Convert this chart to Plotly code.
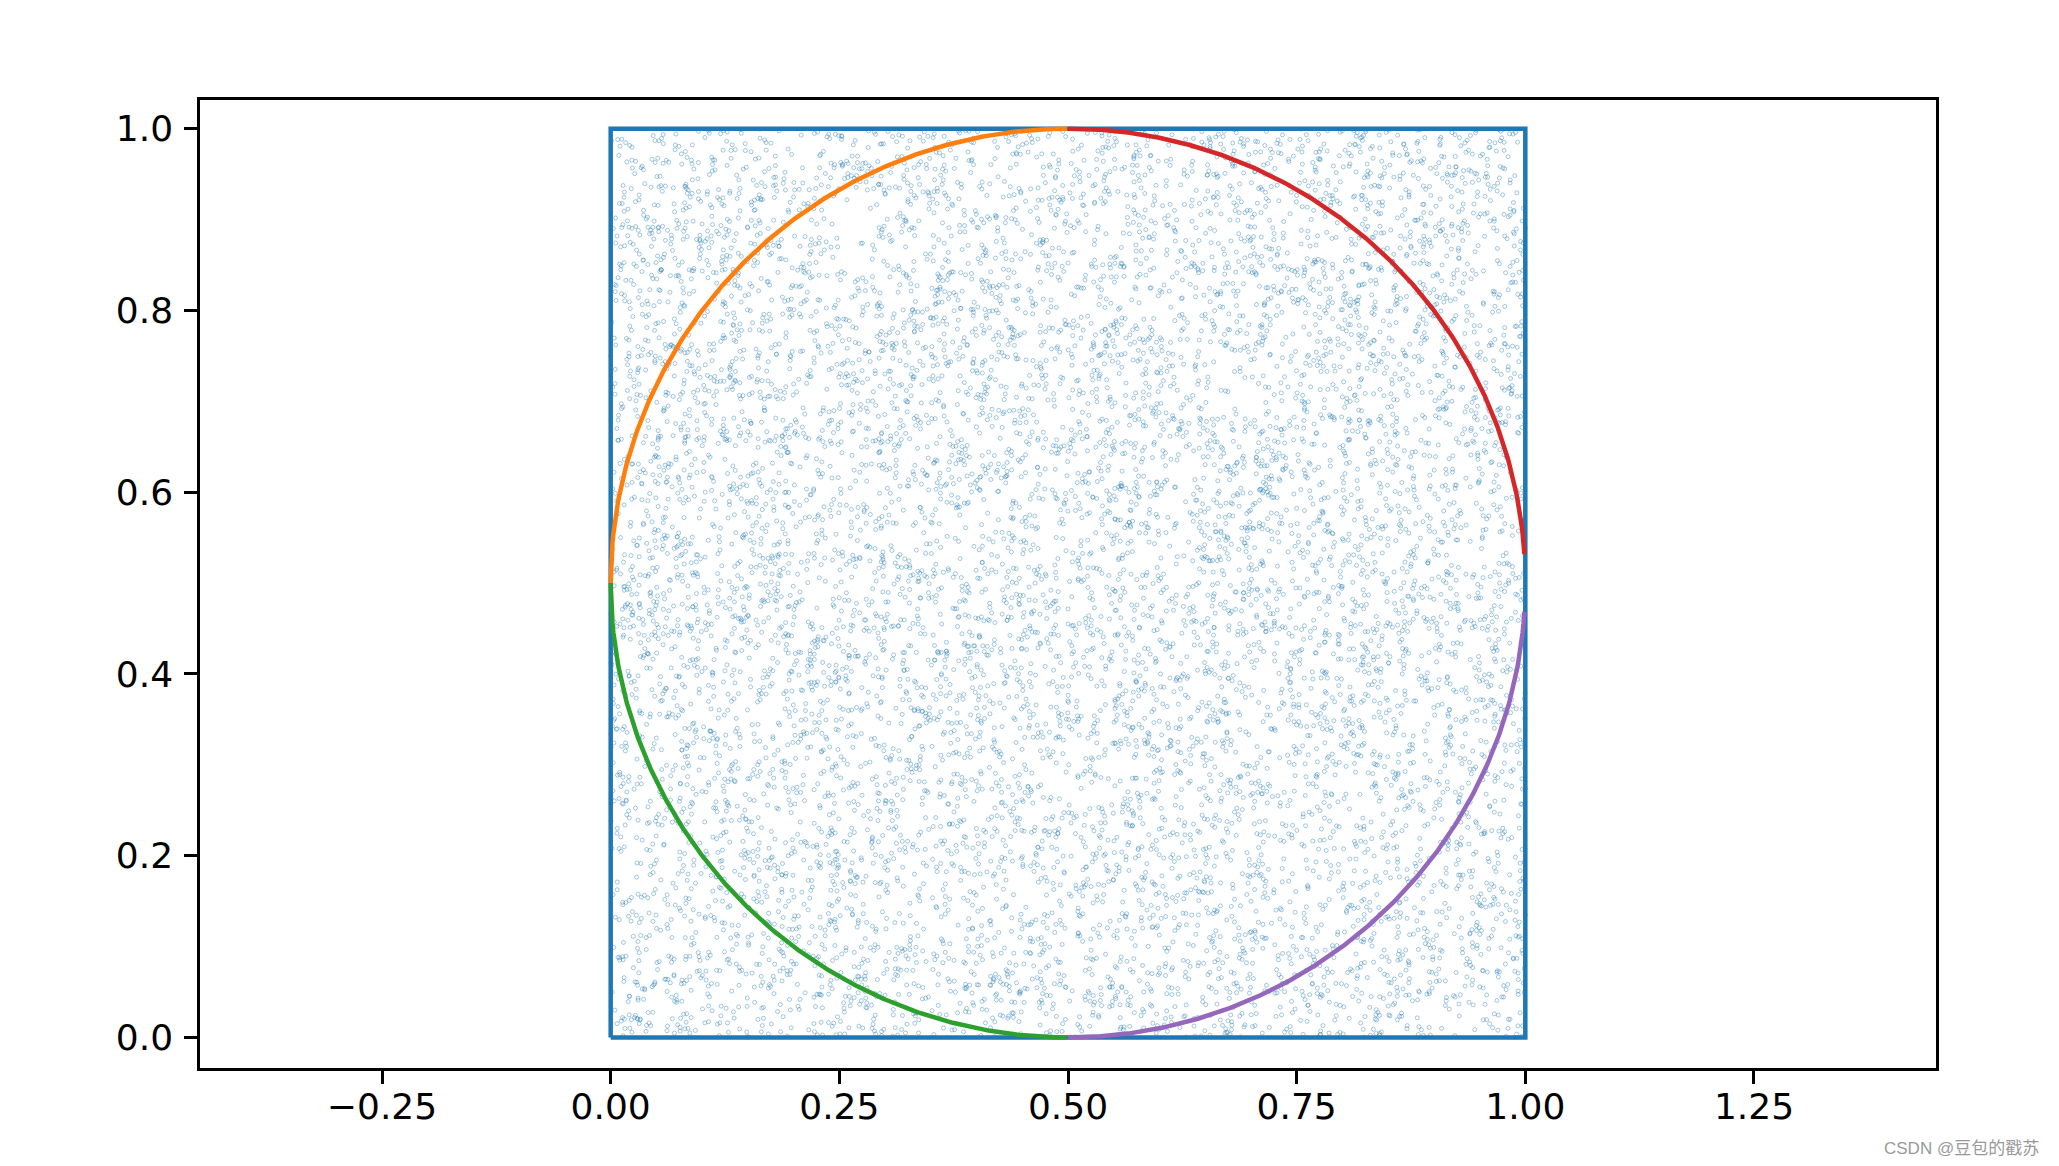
import numpy as np
import plotly.graph_objects as go

# Monte Carlo pi estimate: unit square, inscribed circle, uniform sample of points
n_points = 10000
rng = np.random.default_rng(0)  # the reference is a random sample; seeded so the output is stable
pts_x = rng.random(n_points)
pts_y = rng.random(n_points)

# square outline
square_x = [0, 1, 1, 0, 0]
square_y = [0, 0, 1, 1, 0]

# circle: centre, radius and the x-step used for the arcs
center_x, center_y = 0.5, 0.5
radius = 0.5
step = 0.001

x_left = np.arange(center_x - radius, center_x, step)
x_right = np.arange(center_x, center_x + radius, step)

def upper(x):
    return center_y + np.sqrt(radius ** 2 - (x - center_x) ** 2)

def lower(x):
    return center_y - np.sqrt(radius ** 2 - (x - center_x) ** 2)

# axis ticks
xtick_vals = [-0.25, 0.0, 0.25, 0.5, 0.75, 1.0, 1.25]
xtick_text = ["\u22120.25", "0.00", "0.25", "0.50", "0.75", "1.00", "1.25"]
ytick_vals = [0.0, 0.2, 0.4, 0.6, 0.8, 1.0]
ytick_text = ["0.0", "0.2", "0.4", "0.6", "0.8", "1.0"]

fig = go.Figure()

fig.add_trace(go.Scatter(
    x=pts_x, y=pts_y, mode="markers",
    marker=dict(symbol="circle-open", size=4, color="rgba(31,119,180,0.4)",
                line=dict(width=1, color="rgba(31,119,180,0.4)")),
    hoverinfo="skip"))

fig.add_trace(go.Scatter(x=square_x, y=square_y, mode="lines",
                         line=dict(color="#1f77b4", width=4.5)))

# one colour per quarter arc, like matplotlib's default cycle
arcs = [
    (x_left, upper(x_left), "#ff7f0e"),
    (x_left, lower(x_left), "#2ca02c"),
    (x_right, upper(x_right), "#d62728"),
    (x_right, lower(x_right), "#9467bd"),
]
for ax_, ay_, col in arcs:
    fig.add_trace(go.Scatter(x=ax_, y=ay_, mode="lines", line=dict(color=col, width=4.5)))

axis_style = dict(showgrid=False, zeroline=False, showline=True, mirror=True,
                  linecolor="black", linewidth=2.5, ticks="outside", ticklen=13,
                  tickwidth=2.5, tickcolor="black",
                  tickfont=dict(family="DejaVu Sans", size=36, color="black"))

fig.update_xaxes(range=[-0.449, 1.449], tickvals=xtick_vals, ticktext=xtick_text,
                 ticklabelstandoff=-8, **axis_style)
fig.update_yaxes(range=[-0.0336, 1.0315], tickvals=ytick_vals, ticktext=ytick_text,
                 ticklabelstandoff=4, **axis_style)

fig.add_annotation(text="CSDN @豆包的戳苏", xref="paper", yref="paper",
                   x=1.0605, y=-0.083, xanchor="right", yanchor="middle", showarrow=False,
                   font=dict(family="Liberation Sans, Noto Sans CJK SC", size=17, color="#9a9a9a"))

fig.update_layout(width=2059, height=1166, autosize=False, showlegend=False,
                  plot_bgcolor="white", paper_bgcolor="white",
                  margin=dict(l=192, r=131, t=92, b=106))

fig.write_html("out.html")
